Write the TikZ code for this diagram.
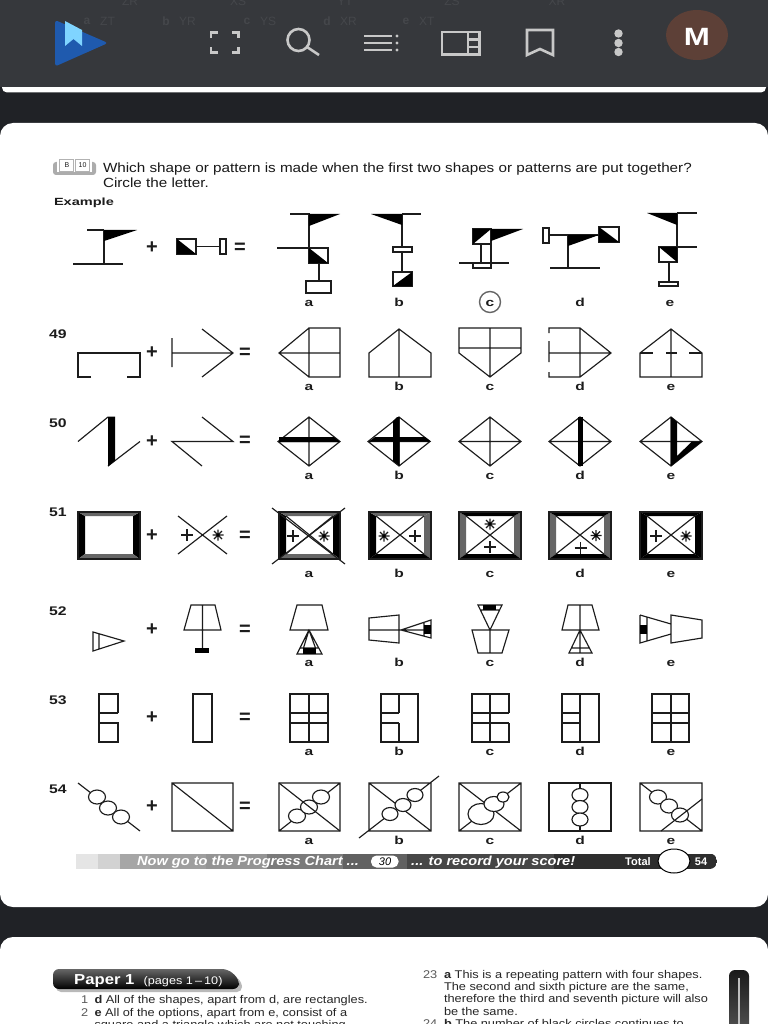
\documentclass[tikz,border=0pt]{standalone}
\usepackage{fontspec}
\setmainfont{Liberation Sans}
\definecolor{pagebg}{HTML}{202226}
\definecolor{barbg}{HTML}{36383C}
\definecolor{ghost}{HTML}{45474B}
\definecolor{icon}{HTML}{C8C8C8}
\definecolor{ink}{HTML}{1C1C1C}
\definecolor{midg}{HTML}{666666}
\definecolor{logoblue}{HTML}{1F5AAE}
\definecolor{logocyan}{HTML}{7FD4FF}
\definecolor{avatarc}{HTML}{5D4037}
\tikzset{
  ln/.style={draw=ink,line width=1.15pt,line join=miter},
  wh/.style={fill=white,draw=ink,line width=1.15pt},
  ic/.style={draw=icon,line width=2.6pt},
  txt/.style={inner sep=0pt,outer sep=0pt,text=ink},
  ghosttxt/.style={inner sep=0pt,text=ghost,font=\fontsize{12}{12}\selectfont},
  head/.style={txt,anchor=base west,font=\fontsize{13.3}{13.3}\selectfont,text=black!90},
  ans/.style={txt,anchor=base west,font=\fontsize{11.2}{11.2}\selectfont,text=black!85},
  barw/.style={inner sep=0pt,text=white,font=\bfseries\fontsize{12}{12}\selectfont}
}
\newcommand\lett[4]{\node[txt,anchor=base] (#1) at (#2,#3+4) {\scalebox{1.35}[1]{\fontsize{11.5}{11.5}\selectfont\bfseries #4}};}
\newcommand\qnum[4]{\node[txt] (#1) at (#2,#3) {\scalebox{1.26}[1]{\fontsize{12.5}{12.5}\selectfont\bfseries #4}};}
\newcommand\ops[3]{\node[txt] (p#1) at (152,#2) {\fontsize{20}{20}\selectfont\bfseries +};
  \node[txt] (e#1) at (#3,#2) {\fontsize{20}{20}\selectfont\bfseries =};}
\newcommand\hx[1]{\scalebox{1.146}[1]{#1}}
\newcommand\ax[1]{\scalebox{1.14}[1]{#1}}
\newcommand\diam[1]{\draw[ln] (#1-31,441.5)--(#1,417)--(#1+31,441.5)--(#1,466)--cycle (#1-31,441.5)--(#1+31,441.5) (#1,417)--(#1,466);}
\newcommand\picframe[5]{%
  \fill[#3] (#1,512)--(#1+7,516)--(#1+7,554)--(#1,559)--cycle;
  \fill[#4] (#2,512)--(#2-7,516)--(#2-7,554)--(#2,559)--cycle;
  \fill[#5] (#1,512)--(#2,512)--(#2-7,516)--(#1+7,516)--cycle;
}
\newcommand\frbot[3]{\fill[#3] (#1,559)--(#2,559)--(#2-7,554)--(#1+7,554)--cycle;
  \draw[ln] (#1,512) rectangle (#2,559);
  \draw[ln] (#1+7,516) -- (#2-7,554) (#2-7,516) -- (#1+7,554);}
\newcommand\plm[2]{\draw[ln] (#1-6,#2)--(#1+6,#2) (#1,#2-6)--(#1,#2+6);}
\newcommand\astk[2]{\draw[ln] (#1-5.5,#2)--(#1+5.5,#2) (#1,#2-5.5)--(#1,#2+5.5) (#1-4,#2-4)--(#1+4,#2+4) (#1-4,#2+4)--(#1+4,#2-4);\fill[black] (#1,#2) circle (1.6);}
\newcommand\elp[4]{\draw[wh] (#1,#2) ellipse (#3 and #4);}
\begin{document}
\begin{tikzpicture}[x=1pt,y=-1pt]
\useasboundingbox (0,0) rectangle (768,1024);
\clip (0,0) rectangle (768,1024);
% ---------- screen
\fill[pagebg] (0,0) rectangle (768,1024);
\fill[white,rounded corners=5] (2,60) rectangle (766,92.5);
\fill[barbg] (0,0) rectangle (768,87);
\fill[white,rounded corners=13] (0,123) rectangle (768,907);
\fill[white,rounded corners=13] (0,937) rectangle (768,1100);
% ghost text in the toolbar
\foreach \nm/\xx/\tx in {g1/130/ZR,g2/238/XS,g3/345/YT,g4/452/ZS,g5/557/XR}
  \node[ghosttxt] (\nm) at (\xx,1) {\tx};
\foreach \nm/\xx/\ltr/\tx in {h1/87/a/ZT,h2/166/b/YR,h3/247/c/YS,h4/327/d/XR,h5/406/e/XT}{
  \node[ghosttxt] (\nm) at (\xx,21) {\textbf{\ltr}};
  \node[ghosttxt,anchor=west] (\nm t) at (\xx+13,21) {\tx};}
% logo
\fill[logoblue,rounded corners=3] (55,20)--(108,43)--(55,66.5)--cycle;
\fill[logocyan] (65,21)--(82,30)--(82,46)--(73.5,39)--(65,46)--cycle;
% icons
\draw[ic] (211,38)--(211,32.5)--(218,32.5) (232,32.5)--(238.5,32.5)--(238.5,38) (238.5,47)--(238.5,52.5)--(232,52.5) (218,52.5)--(211,52.5)--(211,47);
\draw[ic] (298.5,40) circle (11);
\draw[ic] (307,47)--(319,55);
\draw[ic] (364,36)--(392,36) (364,43)--(392,43) (364,50)--(392,50);
\fill[icon] (397,36) circle (1.7) (397,43) circle (1.7) (397,50) circle (1.7);
\draw[ic] (442,32) rectangle (479.5,54.5) (468,32)--(468,54.5) (468,39.5)--(479.5,39.5) (468,47)--(479.5,47);
\draw[ic] (527,30)--(553,30)--(553,55)--(540,49)--(527,55)--cycle;
\fill[icon] (618.5,33.5) circle (4.2) (618.5,43) circle (4.2) (618.5,52) circle (4.2);
\fill[avatarc] (697,35) ellipse (31 and 25);
\node[inner sep=0pt,text=white] (avatar) at (697,36.5) {\scalebox{1.25}[1]{\fontsize{25}{25}\selectfont\bfseries M}};
% ---------- heading
\fill[gray!65,rounded corners=3] (53,162) rectangle (96,175);
\fill[white] (57,160) rectangle (74.5,172);
\fill[white] (75.5,160) rectangle (92,172);
\draw[gray!60,line width=.7pt] (59.5,159.5) rectangle (73.5,171.5) (75.5,159.5) rectangle (89.5,171.5);
\node[txt] (bk1) at (67,165) {\fontsize{7}{7}\selectfont B};
\node[txt] (bk2) at (82.5,165) {\fontsize{7}{7}\selectfont 10};
\node[head] (h1l) at (103,173) {\hx{Which shape or pattern is made when the first two shapes or patterns are put together?}};
\node[head] (h2l) at (103,188) {\hx{Circle the letter.}};
\node[txt,anchor=base west] (ex) at (54,206) {\scalebox{1.4}[1]{\fontsize{10.4}{10.4}\selectfont\bfseries Example}};
% ---------- example
\draw[ln] (87,230)--(104,230) (104,230)--(104,264) (73,264)--(123,264);
\fill[black] (104,230)--(137,230)--(104,241)--cycle;
\ops{x}{248}{240}
\draw[ln] (177,239) rectangle (196,254) (196,246.5)--(220,246.5) (220,239) rectangle (226,254);
\fill[black] (177,239)--(196,254)--(177,254)--cycle;
% a
\draw[ln] (290,214)--(309,214)--(309,248) (277,248)--(309,248) (309,248) rectangle (328,263) (319,263)--(319,281) (306,281) rectangle (331,293);
\fill[black] (309,214)--(340,214)--(309,226)--cycle (309,248)--(328,263)--(309,263)--cycle;
\lett{xa}{309}{302}{a}
% b
\draw[ln] (402,214)--(421,214) (402,214)--(402,247) (393,247) rectangle (412,252) (402,252)--(402,272) (393,272) rectangle (412,286);
\fill[black] (371,214)--(402,214)--(402,225)--cycle (412,272)--(412,286)--(393,286)--cycle;
\lett{xb}{399}{302}{b}
% c
\draw[ln] (473,229) rectangle (491,244) (481,244)--(481,263) (491,244)--(491,263) (459,263)--(509,263) (473,263) rectangle (491,268);
\fill[black] (473,229)--(491,229)--(473,244)--cycle (491,229)--(523,229)--(491,241)--cycle;
\lett{xc}{490}{302}{c}
\draw[midg,line width=1.4pt] (490,302) circle (10.5);
% d
\draw[ln] (543,228) rectangle (549,243) (549,235)--(599,235) (599,227) rectangle (619,242) (568,235)--(568,268) (550,268)--(600,268);
\fill[black] (568,235)--(599,235)--(568,246)--cycle (619,242)--(599,227)--(599,242)--cycle;
\lett{xd}{580}{302}{d}
% e
\draw[ln] (677,213)--(697,213) (677,213)--(677,247) (677,247)--(697,247) (659,247) rectangle (677,262) (669,262)--(669,282) (659,282) rectangle (678,286);
\fill[black] (647,213)--(677,213)--(677,225)--cycle (659,247)--(677,247)--(677,262)--cycle;
\lett{xe}{670}{302}{e}
% ---------- 49
\qnum{n49}{58}{334}{49}
\ops{49}{353}{245}
\draw[ln] (91,377)--(78,377)--(78,353)--(140,353)--(140,377)--(127,377);
\draw[ln] (172,338)--(172,367) (172,353)--(233,353) (202,329)--(233,353)--(202,377);
\draw[ln] (340,328) rectangle (309,377) (309,328)--(279,353)--(309,377) (279,353)--(340,353);
\lett{a49}{309}{386}{a}
\draw[ln] (369,353)--(399,329)--(431,353)--(431,377)--(369,377)--cycle (399,329)--(399,377);
\lett{b49}{399}{386}{b}
\draw[ln] (459,328)--(521,328)--(521,353)--(490,377)--(459,353)--cycle (459,348)--(521,348) (490,328)--(490,377);
\lett{c49}{490}{386}{c}
\draw[ln] (549,333)--(549,328)--(580,328)--(611,353)--(580,377)--(549,377)--(549,372) (549,341)--(549,362) (549,353)--(611,353) (580,328)--(580,377);
\lett{d49}{580}{386}{d}
\draw[ln] (640,353)--(671,329)--(702,353)--(702,377)--(640,377)--cycle (671,329)--(671,377);
\draw[ln] (640,353)--(653,353) (666,353)--(677,353) (689,353)--(702,353);
\lett{e49}{671}{386}{e}
% ---------- 50
\qnum{n50}{58}{423}{50}
\ops{50}{441.5}{245}
\draw[ln] (78,441.5)--(108,417) (108,466)--(140,441.5);
\fill[black] (108,416.5)--(115,416.5)--(115,460.5)--(108,466.5)--cycle;
\draw[ln] (202,417)--(233,441.5)--(172,441.5)--(202,466);
\diam{309}
\fill[black] (279,437)--(334,437)--(340,442)--(279,442)--cycle;
\lett{a50}{309}{475}{a}
\diam{399}
\fill[black] (375,437)--(425,437)--(431,441.5)--(369,441.5)--cycle;
\fill[black] (393,421)--(397,417)--(399.5,417)--(399.5,466)--(393,461)--cycle;
\lett{b50}{399}{475}{b}
\diam{490}
\lett{c50}{490}{475}{c}
\diam{580}
\fill[black] (578,417)--(582.5,417)--(582.5,466)--(578,466)--cycle;
\lett{d50}{580}{475}{d}
\diam{671}
\fill[black] (671,417)--(677,422)--(677,456)--(692,441.5)--(702,441.5)--(671,466)--cycle;
\lett{e50}{671}{475}{e}
% ---------- 51
\qnum{n51}{58}{512}{51}
\ops{51}{536}{245}
\fill[black] (78,512)--(85,516)--(85,554)--(78,559)--cycle (140,512)--(133,516)--(133,554)--(140,559)--cycle;
\fill[midg] (78,512)--(140,512)--(133,516)--(85,516)--cycle (78,559)--(140,559)--(133,554)--(85,554)--cycle;
\draw[ln] (78,512) rectangle (140,559);
\draw[ln] (178,516)--(227,554) (178,554)--(227,516);
\plm{187}{535}
\astk{218}{535}
% a
\picframe{279}{340}{black}{black}{midg}
\frbot{279}{340}{midg}
\draw[ln] (272,508)--(345,564) (272,564)--(345,508);
\plm{293}{536}
\astk{324}{536}
\lett{a51}{309}{573}{a}
% b
\picframe{369}{431}{black}{midg}{midg}
\frbot{369}{431}{black}
\astk{384}{536}
\plm{415}{536}
\lett{b51}{399}{573}{b}
% c
\picframe{459}{521}{midg}{midg}{black}
\frbot{459}{521}{black}
\astk{490}{524}
\plm{490}{547}
\lett{c51}{490}{573}{c}
% d
\picframe{549}{611}{midg}{midg}{black}
\frbot{549}{611}{black}
\astk{596}{535.5}
\plm{580.5}{548}
\lett{d51}{580}{573}{d}
% e
\picframe{640}{702}{black}{black}{black}
\frbot{640}{702}{black}
\plm{656}{536}
\astk{686}{536}
\lett{e51}{671}{573}{e}
% ---------- 52
\qnum{n52}{58}{611}{52}
\ops{52}{630}{245}
\draw[ln] (93,632)--(124,641)--(93,651)--cycle (99,634)--(99,649);
\draw[ln] (191,605)--(215,605)--(221,630)--(184,630)--cycle (202.5,605)--(202.5,650);
\fill[black] (195,648) rectangle (209,653);
% a
\draw[ln] (297,605)--(322,605)--(328,630)--(290,630)--cycle (309,630)--(297,654)--(322,654)--cycle (309,630)--(303.5,648) (309,630)--(315.5,648) (300,648)--(319,648);
\fill[black] (303,648) rectangle (316,653.5);
\lett{a52}{309}{662}{a}
% b
\draw[ln] (369,618)--(399,615)--(399,643)--(369,640)--cycle (369,630)--(431,630) (401,630)--(431,620)--(431,638)--cycle (424,622.5)--(424,636);
\fill[black] (424,625) rectangle (431,634);
\lett{b52}{399}{662}{b}
% c
\draw[ln] (478,605)--(502,605)--(490,630)--cycle (480.5,610)--(499.5,610) (472,630)--(509,630)--(502,653)--(478,653)--cycle (490,630)--(490,653);
\fill[black] (483,605) rectangle (496,610);
\lett{c52}{490}{662}{c}
% d
\draw[ln] (568,605)--(592,605)--(599,630)--(562,630)--cycle (580,605)--(580,653) (580,630)--(592,653)--(569,653)--cycle (571.5,648)--(589.5,648);
\lett{d52}{580}{662}{d}
% e
\draw[ln] (640,615)--(671,624) (671,634)--(640,643)--(640,615) (647,617)--(647,641) (671,615)--(702,620)--(702,638)--(671,643)--cycle;
\fill[black] (640,625) rectangle (647,634);
\lett{e52}{671}{662}{e}
% ---------- 53
\qnum{n53}{58}{700}{53}
\ops{53}{718}{245}
\draw[ln] (118,713)--(118,694)--(99,694)--(99,742)--(118,742)--(118,723)--(99,723) (118,713)--(99,713);
\draw[ln] (193,694) rectangle (212,742);
\draw[ln] (290,694) rectangle (328,742) (309,694)--(309,742) (290,713)--(328,713) (290,723)--(328,723);
\lett{a53}{309}{751}{a}
\draw[ln] (399,713)--(399,694)--(418,694)--(418,742)--(399,742)--(399,723) (399,694)--(381,694)--(381,742)--(399,742) (381,713)--(399,713) (381,723)--(399,723);
\lett{b53}{399}{751}{b}
\draw[ln] (509,713)--(509,694)--(472,694)--(472,742)--(509,742)--(509,723) (490,694)--(490,742) (472,713)--(509,713) (472,723)--(509,723);
\lett{c53}{490}{751}{c}
\draw[ln] (562,694) rectangle (599,742) (580,694)--(580,742) (562,713)--(580,713) (562,723)--(580,723);
\lett{d53}{580}{751}{d}
\draw[ln] (652,694) rectangle (689,742) (671,694)--(671,742) (652,713)--(689,713) (652,723)--(689,723);
\lett{e53}{671}{751}{e}
% ---------- 54
\qnum{n54}{58}{789}{54}
\ops{54}{807}{245}
\draw[ln] (78,783)--(140,831);
\elp{97}{797}{8.5}{7}
\elp{108}{808}{8.5}{7}
\elp{121}{817}{8.5}{7}
\draw[ln] (172,783) rectangle (233,831) (172,783)--(233,831);
% a
\draw[ln] (279,783) rectangle (340,831) (279,831)--(340,783);
\elp{297}{816}{8.5}{7}
\elp{309}{807}{8.5}{7}
\elp{321}{797}{8.5}{7}
\draw[ln] (279,783)--(340,831);
\lett{a54}{309}{840}{a}
% b
\draw[ln] (369,783) rectangle (431,831) (369,783)--(431,831) (359,838)--(439,776);
\elp{390}{814}{8}{6.5}
\elp{403}{805}{8}{6.5}
\elp{415}{795}{8}{6.5}
\lett{b54}{399}{840}{b}
% c
\draw[ln] (459,783) rectangle (521,831) (459,783)--(521,831) (459,831)--(521,783);
\elp{481}{814}{13}{10.5}
\elp{494}{804}{10}{7.5}
\elp{503}{797}{6}{5}
\lett{c54}{490}{840}{c}
% d
\draw[ln] (549,783) rectangle (611,831) (580,783)--(580,831);
\elp{580}{795}{8}{6.5}
\elp{580}{807}{8}{6.5}
\elp{580}{819.5}{8}{6.5}
\lett{d54}{580}{840}{d}
% e
\draw[ln] (640,783) rectangle (702,831) (640,783)--(702,831);
\elp{658}{797}{8.5}{7}
\elp{669}{806}{8.5}{7}
\elp{680}{815}{8.5}{7}
\draw[ln] (661,831)--(702,799);
\lett{e54}{671}{840}{e}
% ---------- progress bar
\begin{scope}
\clip[rounded corners=7.5] (60,853.5) rectangle (717,869);
\fill[gray!20] (76,853.5) rectangle (98,869);
\fill[gray!35] (98,853.5) rectangle (120,869);
\fill[black!35] (120,853.5) rectangle (150,869);
\fill[black!38] (150,853.5) rectangle (206,869);
\fill[black!42] (206,853.5) rectangle (267,869);
\fill[black!52] (267,853.5) rectangle (343,869);
\fill[black!62] (343,853.5) rectangle (407,869);
\fill[black!72] (407,853.5) rectangle (554,869);
\fill[black!82] (554,853.5) rectangle (717,869);
\end{scope}
\node[barw,anchor=base west] (bar1) at (137,865.5) {\scalebox{1.12}[1]{\itshape\fontsize{13}{13}\selectfont Now go to the Progress Chart ...}};
\fill[white,rounded corners=5.5] (371,855.5) rectangle (398.5,867.5);
\node[inner sep=0pt,text=black] (bar30) at (385,861.5) {\itshape\fontsize{11}{11}\selectfont 30};
\node[barw,anchor=base west] (bar2) at (411,865.5) {\scalebox{1.12}[1]{\itshape\fontsize{13}{13}\selectfont ... to record your score!}};
\node[barw,anchor=base west] (bar3) at (625,865.5) {\fontsize{11}{11}\selectfont Total};
\draw[fill=white,draw=black,line width=1pt] (674,861) ellipse (16 and 12);
\node[barw] (bar4) at (701,861.5) {\fontsize{11}{11}\selectfont 54};
% ---------- answers
\fill[gray!55,rounded corners=5] (56,972) -- (230,972) -- (242,982) -- (242,992) -- (56,992) -- cycle;
\path[top color=black!60,bottom color=black,rounded corners=6] (53,969) -- (228,969) -- (239,979) -- (239,989) -- (53,989) -- cycle;
\node[inner sep=0pt,text=white,anchor=base west] (pap) at (74,984) {\scalebox{1.15}[1]{\fontsize{14.5}{14.5}\selectfont\bfseries Paper 1\ \ \mdseries\fontsize{11}{11}\selectfont (pages 1\,–\,10)}};
\node[ans,text=black!65] (a1n) at (81,1003) {\ax{1}};
\node[ans] (a1) at (94.5,1003) {\ax{\textbf{d} All of the shapes, apart from d, are rectangles.}};
\node[ans,text=black!65] (a2n) at (81,1016) {\ax{2}};
\node[ans] (a2) at (94.5,1016) {\ax{\textbf{e} All of the options, apart from e, consist of a}};
\node[ans] (a2b) at (94.5,1028) {\ax{square and a triangle which are not touching.}};
\node[ans,text=black!65] (b1n) at (423,978) {\ax{23}};
\node[ans] (b1) at (444,978) {\ax{\textbf{a} This is a repeating pattern with four shapes.}};
\node[ans] (b2) at (444,990) {\ax{The second and sixth picture are the same,}};
\node[ans] (b3) at (444,1002.5) {\ax{therefore the third and seventh picture will also}};
\node[ans] (b4) at (444,1015) {\ax{be the same.}};
\node[ans,text=black!65] (b5n) at (423,1027) {\ax{24}};
\node[ans] (b5) at (444,1027) {\ax{\textbf{b} The number of black circles continues to}};
\path[top color=black!90,bottom color=black!65,rounded corners=6] (729,970) rectangle (749,1040);
\fill[white!75!black] (738,978) rectangle (740,1030);
\end{tikzpicture}
\end{document}
